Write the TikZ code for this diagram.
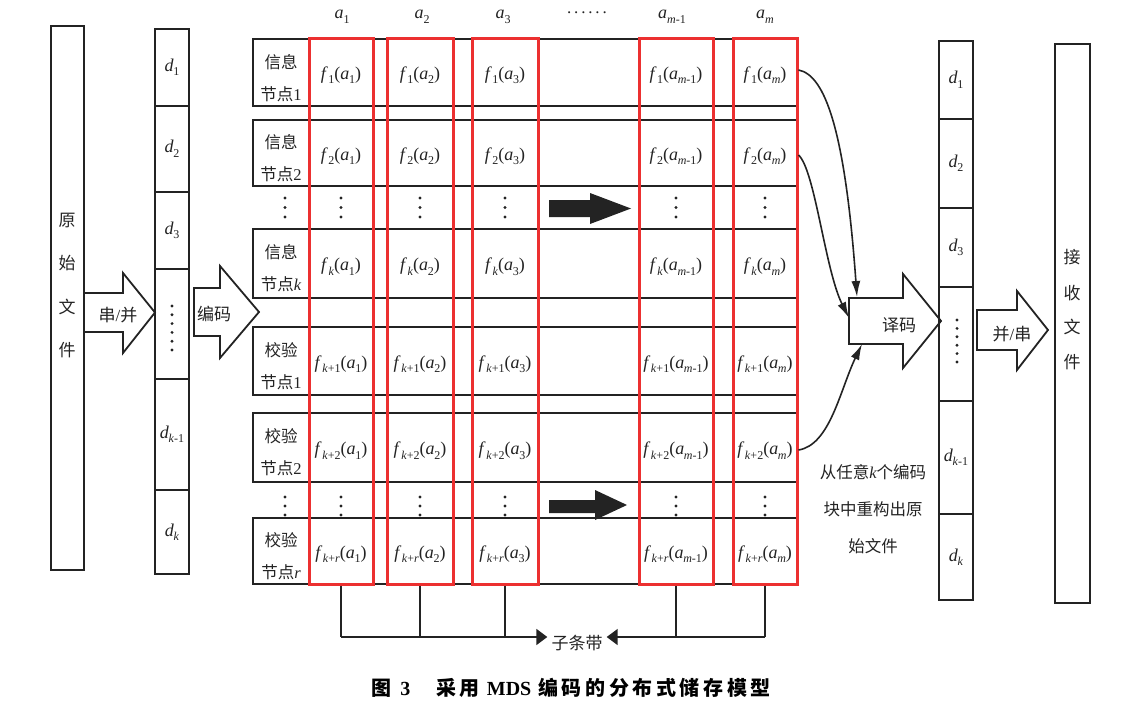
\documentclass[tikz,border=0pt]{standalone}
\usepackage{fontspec}
\setmainfont{Liberation Serif}
\newfontfamily\cjk{Noto Sans CJK SC}
\newfontfamily\cjkcap{Noto Sans CJK SC}[LetterSpace=18]
\usetikzlibrary{arrows.meta}
\definecolor{rc}{RGB}{236,48,48}
\definecolor{ink}{RGB}{35,35,35}
\newcommand\ik[1]{{\rmfamily\itshape #1}}
\newcommand\rn[1]{{\rmfamily #1}}
\newcommand\sbs[1]{\raisebox{-4.5pt}{\fontsize{12}{13}\selectfont #1}}
\newcommand\Fx[2]{\textit{f}\kern0.5pt\sbs{#1}(\textit{a}\kern-0.3pt\sbs{#2})}
\newcommand\Dv[1]{\textit{d}\kern-0.5pt\sbs{#1}}
\newcommand\VD[4]{\foreach \j in {1,...,#3}{\fill[ink] (#1,{#2+(\j-1)*#4}) circle (1.6pt);}}
\begin{document}
\begin{tikzpicture}[x=1pt,y=-1pt,
  blk/.style={draw=ink, line width=1.8pt},
  barrow/.style={draw=ink, line width=1.8pt, fill=white, line join=miter},
  rowbox/.style={draw=ink, line width=1.8pt},
  redcol/.style={draw=rc, line width=3pt, inner sep=0pt},
  cell/.style={text=ink, font=\fontsize{18}{21}\selectfont, inner sep=0pt},
  dl/.style={text=ink, font=\fontsize{18}{21}\selectfont},
  lbl/.style={text=ink, font=\cjk\fontsize{16.5}{32}\selectfont, align=center, inner sep=0pt},
  ch/.style={text=ink, font=\cjk\fontsize{17}{20}\selectfont, inner sep=0pt},
  conn/.style={draw=ink, line width=1.6pt, -{Latex[length=16pt,width=9pt]}},
  brk/.style={draw=ink, line width=1.8pt, -{Triangle[length=11pt,width=16pt]}}
]
\useasboundingbox (0,0) rectangle (1126,714);

% ---------- original file ----------
\node[rowbox, minimum width=33pt, minimum height=544pt, inner sep=0pt] (src) at (67.5,298) {};
\foreach \c/\yy in {原/220, 始/263, 文/307, 件/350}{\node[ch] at (67,\yy) {\c};}

% ---------- serial/parallel arrow ----------
\draw[barrow] (84,293) -- (123,293) -- (123,273) -- (155,312.5) -- (123,353) -- (123,332) -- (84,332) -- cycle;
\node[ch] (sp) at (118,315) {串{\rmfamily /}并};

% ---------- left data column ----------
\foreach \nm/\ya/\yb/\lab in {ld1/29/106/\Dv{1}, ld2/106/192/\Dv{2}, ld3/192/269/\Dv{3}, ldx/269/379/{}, ldk1/379/490/\Dv{\textit{k}-1}, ldk/490/574/\Dv{\textit{k}}}{
  \draw[blk] (155,\ya) rectangle (189,\yb);
  \node[dl] (\nm) at (172,{(\ya+\yb)/2}) {\lab};
}
\VD{172}{306}{6}{8.8}

% ---------- encode arrow ----------
\draw[barrow] (194,288) -- (220,288) -- (220,266) -- (259,312) -- (220,358) -- (220,336) -- (194,336) -- cycle;
\node[ch] (enc) at (214,314) {编码};

% ---------- rows ----------
\foreach \ya/\yb in {39/106, 120/186, 229/298, 327/395, 413/482, 518/584}{
  \draw[rowbox] (253,\ya) rectangle (797,\yb);
}
\node[lbl] (L1) at (281,78) {信息\\节点\rn{1}};
\node[lbl] (L2) at (281,158) {信息\\节点\rn{2}};
\node[lbl] (Lk) at (281,268) {信息\\节点\ik{k}};
\node[lbl] (Lk1) at (281,366) {校验\\节点\rn{1}};
\node[lbl] (Lk2) at (281,452) {校验\\节点\rn{2}};
\node[lbl] (Lkr) at (281,556) {校验\\节点\ik{r}};

% ---------- cells ----------
\foreach \rid/\ry/\rs in {r1/75/1, r2/156/2, rk/266.5/\textit{k}, rka/364/\textit{k}+1, rkb/450.5/\textit{k}+2, rkr/554/\textit{k}+\textit{r}}{
  \foreach \cid/\cx/\cs in {c1/341/1, c2/420/2, c3/505/3, cy/676/\textit{m}-1, cz/765/\textit{m}}{
    \node[cell] (\rid\cid) at (\cx,\ry) {\Fx{\rs}{\cs}};
  }
}
% vertical dots
\foreach \xx in {285, 341, 420, 505, 676, 765}{
  \VD{\xx}{198}{3}{9.5}
  \VD{\xx}{497}{3}{9}
}
% black block arrows
\fill[ink] (549,200) -- (590,200) -- (590,193) -- (631,208.5) -- (590,224) -- (590,217) -- (549,217) -- cycle;
\fill[ink] (549,500) -- (595,500) -- (595,490) -- (627,505) -- (595,520) -- (595,513) -- (549,513) -- cycle;

% ---------- red columns ----------
\foreach \nm/\xa/\xb in {col1/309/373, col2/387/453, col3/472/538, coly/639/713, colz/733/797}{
  \node[redcol, minimum width={\xb-\xa}, minimum height=545pt] (\nm) at ({(\xa+\xb)/2},311.5) {};
}

% ---------- headers ----------
\node[dl] (h1) at (342,17) {\textit{a}\sbs{1}};
\node[dl] (h2) at (422,17) {\textit{a}\sbs{2}};
\node[dl] (h3) at (503,17) {\textit{a}\sbs{3}};
\node[text=ink, font=\rmfamily\fontsize{17}{18}\selectfont] (hd) at (587,13) {.\,.\,.\,.\,.\,.};
\node[dl] (hy) at (672,17) {\textit{a}\sbs{\textit{m}-1}};
\node[dl] (hz) at (765,17) {\textit{a}\sbs{\textit{m}}};

% ---------- bottom bracket ----------
\coordinate (bl) at (341,637);
\coordinate (br) at (765,637);
\node[ch, inner sep=4pt] (sub) at (577,643) {子条带};
\foreach \c in {col1,col2,col3,coly,colz}{\draw[blk] (\c.south) -- (\c.south |- bl);}
\draw[brk] (col1.south |- bl) -- (sub.west |- bl);
\draw[brk] (colz.south |- br) -- (sub.east |- br);

% ---------- decode arrow ----------
\draw[barrow] (849,298) -- (903,298) -- (903,274) -- (941,321) -- (903,368) -- (903,344) -- (849,344) -- cycle;
\node[ch] (dec) at (899,325) {译码};
\coordinate (decA) at (857,297);
\coordinate (decB) at (849,318);
\coordinate (decC) at (862,344);
\draw[conn] (colz.east |- 0,70) .. controls (825,75) and (845,130) .. (decA);
\draw[conn] (colz.east |- 0,155) .. controls (815,170) and (825,270) .. (decB);
\draw[conn] (colz.east |- 0,450) .. controls (830,445) and (840,390) .. (decC);

\node[lbl, font=\cjk\fontsize{16.5}{37}\selectfont] (note) at (873,509) {从任意\ik{k}个编码\\块中重构出原\\始文件};

% ---------- right data column ----------
\foreach \nm/\ya/\yb/\lab in {rd1/41/119/\Dv{1}, rd2/119/208/\Dv{2}, rd3/208/287/\Dv{3}, rdx/287/401/{}, rdk1/401/514/\Dv{\textit{k}-1}, rdk/514/600/\Dv{\textit{k}}}{
  \draw[blk] (939,\ya) rectangle (973,\yb);
  \node[dl] (\nm) at (956,{(\ya+\yb)/2}) {\lab};
}
\VD{957}{320}{6}{8.4}

% ---------- parallel/serial arrow ----------
\draw[barrow] (977,310) -- (1017,310) -- (1017,291) -- (1048,330) -- (1017,370) -- (1017,350) -- (977,350) -- cycle;
\node[ch] (ps) at (1012,334) {并{\rmfamily /}串};

% ---------- received file ----------
\node[rowbox, minimum width=35pt, minimum height=559pt, inner sep=0pt] (dst) at (1072.5,323.5) {};
\foreach \c/\yy in {接/257, 收/293, 文/327, 件/362}{\node[ch] at (1072,\yy) {\c};}

% ---------- caption ----------
\node[text=black, font=\fontsize{20}{24}\selectfont\bfseries] (cap) at (571,688)
  {{\cjkcap\bfseries 图}\hspace{0.45em}3\hspace{1.3em}{\cjkcap\bfseries 采用}\hspace{0.35em}MDS\hspace{0.35em}{\cjkcap\bfseries 编码的分布式储存模型}};
\end{tikzpicture}
\end{document}
